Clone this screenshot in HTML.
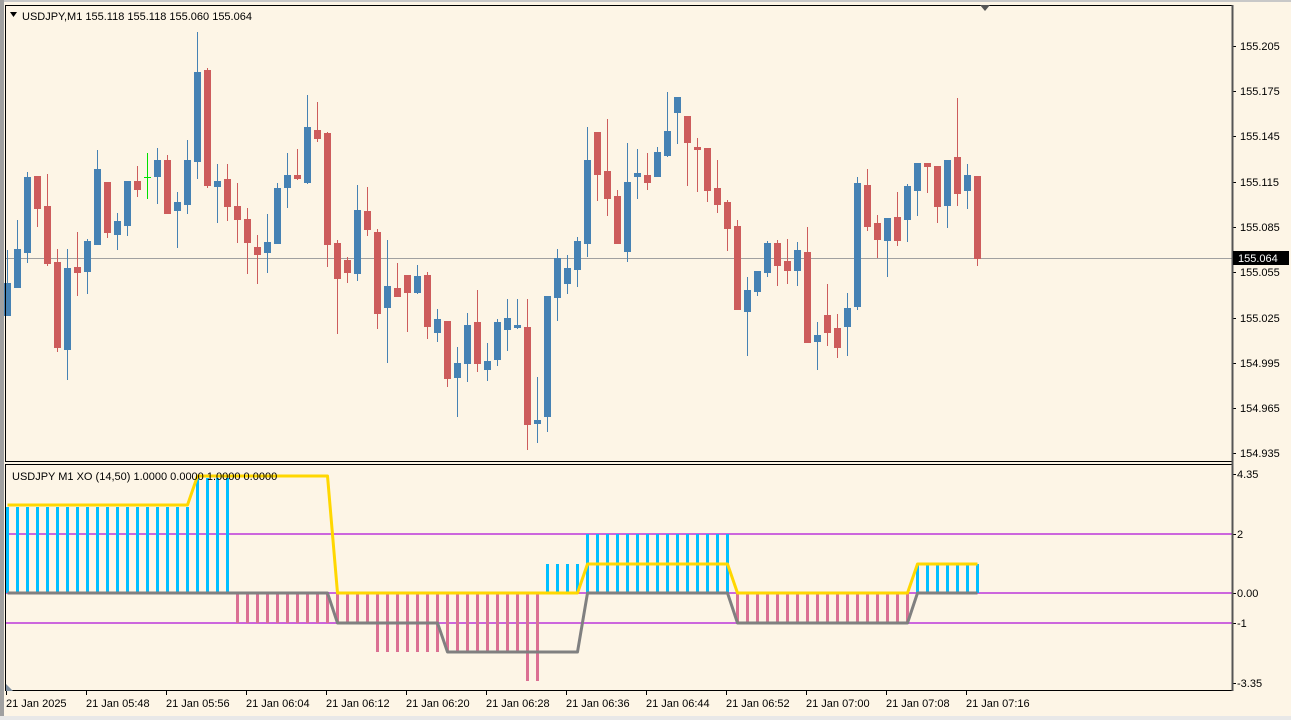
<!DOCTYPE html>
<html><head><meta charset="utf-8"><style>
html,body{margin:0;padding:0;background:#f0f0f0;width:1291px;height:720px;overflow:hidden}
svg{position:absolute;left:0;top:0}
text{font-family:"Liberation Sans",sans-serif;font-size:11px;fill:#000}
</style></head><body>
<svg id="s" width="1291" height="720" xmlns="http://www.w3.org/2000/svg">
<rect x="4" y="2" width="1287" height="714" fill="#fdf5e6"/>
<rect x="0" y="0" width="4" height="720" fill="#a0a0a0"/>
<rect x="0" y="716" width="1291" height="4" fill="#e8e8e8"/>
<line x1="0" y1="1" x2="1291" y2="1" stroke="#a0a0a0"/>
<g id="grid"></g>
<g id="c"></g>
<g id="h"></g>
<rect x="5.5" y="5.5" width="1227" height="456" fill="none" stroke="#000"/>
<rect x="5.5" y="464.5" width="1227" height="226" fill="none" stroke="#000"/>
<line x1="1232.5" y1="5" x2="1232.5" y2="691" stroke="#555" stroke-width="2"/>
<path d="M980 5 L990 5 L985 11 Z" fill="#555"/>
<path d="M6 684 L6 691 L13 691 Z" fill="#8090a0"/>
<path d="M10 12 L17 12 L13.5 17 Z" fill="#000"/>
<text x="22" y="20">USDJPY,M1  155.118 155.118 155.060 155.064</text>
<text x="12" y="480">USDJPY M1 XO (14,50) 1.0000 0.0000 1.0000 0.0000</text>
<g id="ax">
<text x="1240" y="50">155.205</text>
<text x="1240" y="95">155.175</text>
<text x="1240" y="140">155.145</text>
<text x="1240" y="186">155.115</text>
<text x="1240" y="231">155.085</text>
<text x="1240" y="276">155.055</text>
<text x="1240" y="322">155.025</text>
<text x="1240" y="367">154.995</text>
<text x="1240" y="412">154.965</text>
<text x="1240" y="457">154.935</text>
<text x="1237" y="478">4.35</text>
<text x="1237" y="538">2</text>
<text x="1237" y="597">0.00</text>
<text x="1237" y="627">-1</text>
<text x="1237" y="687">-3.35</text>
</g>
<rect x="1233" y="251" width="56" height="14" fill="#000"/>
<text x="1238" y="262" style="fill:#fff">155.064</text>
<g id="t">
<text x="6" y="707">21 Jan 2025</text>
<text x="86" y="707">21 Jan 05:48</text>
<text x="166" y="707">21 Jan 05:56</text>
<text x="246" y="707">21 Jan 06:04</text>
<text x="326" y="707">21 Jan 06:12</text>
<text x="406" y="707">21 Jan 06:20</text>
<text x="486" y="707">21 Jan 06:28</text>
<text x="566" y="707">21 Jan 06:36</text>
<text x="646" y="707">21 Jan 06:44</text>
<text x="726" y="707">21 Jan 06:52</text>
<text x="806" y="707">21 Jan 07:00</text>
<text x="886" y="707">21 Jan 07:08</text>
<text x="966" y="707">21 Jan 07:16</text>
</g>
</svg>
<script>
var NS="http://www.w3.org/2000/svg";
function el(p,t,a){var e=document.createElementNS(NS,t);for(var k in a)e.setAttribute(k,a[k]);p.appendChild(e);return e;}
var s=document.getElementById('s'),g=document.getElementById('grid'),c=document.getElementById('c'),h=document.getElementById('h');
[46,91,136,182,227,272,318,363,408,453,474,534,593,623,683].forEach(function(y){el(g,'line',{x1:1233,x2:1236,y1:y+.5,y2:y+.5,stroke:'#000'});});
for(var i=0;i<13;i++){var x=6+80*i;el(g,'line',{x1:x+.5,x2:x+.5,y1:691,y2:695,stroke:'#000'});}
el(g,'line',{x1:6,x2:1232,y1:258.5,y2:258.5,stroke:'#a0a0a0'});
[534,593,623].forEach(function(y){el(g,'line',{x1:6,x2:1232,y1:y,y2:y,stroke:'#cc66dd','stroke-width':2});});
var D=[[250,316,283,316,'b'],[220,288,249,288,'b'],[172,263,177,253,'b'],[176,227,176,209,'r'],[174,266,206,264,'r'],
[249,352,262,348,'r'],[249,380,268,350,'b'],[232,296,267,273,'r'],[239,294,241,272,'b'],[150,245,169,245,'b'],
[182,238,182,233,'r'],[213,250,221,235,'b'],[181,236,181,226,'b'],[166,197,181,190,'r'],[153,199,177,177,'g'],
[148,204,160,177,'b'],[155,214,160,214,'r'],[192,248,202,211,'b'],[140,214,160,205,'b'],[32,179,72,162,'b'],
[68,188,70,186,'r'],[164,223,181,187,'b'],[164,221,179,207,'r'],[183,243,206,220,'r'],[208,274,219,243,'r'],
[235,284,247,255,'r'],[214,273,242,253,'b'],[183,244,188,244,'b'],[153,208,175,188,'b'],[149,180,175,179,'r'],
[95,184,127,183,'b'],[102,142,130,139,'r'],[132,267,133,245,'r'],[240,334,243,279,'r'],[257,283,260,273,'r'],
[185,281,210,274,'b'],[187,236,211,230,'r'],[229,329,232,314,'r'],[240,363,286,308,'b'],[263,297,288,297,'r'],
[275,332,275,293,'r'],[265,294,276,293,'b'],[272,339,275,327,'r'],[309,342,319,333,'b'],[321,387,321,379,'r'],
[347,417,363,378,'b'],[313,382,325,364,'b'],[290,372,322,364,'r'],[343,381,361,370,'b'],[319,366,322,360,'b'],
[299,351,318,330,'b'],[299,329,325,328,'b'],[299,450,327,425,'r'],[377,443,420,424,'b'],[296,432,296,417,'b'],
[249,321,258,298,'b'],[255,294,268,284,'b'],[237,287,241,270,'b'],[127,257,160,244,'b'],[132,201,132,175,'r'],
[119,216,171,199,'r'],[190,244,196,244,'r'],[143,262,182,252,'b'],[149,199,173,177,'b'],[153,190,175,183,'r'],
[147,177,152,177,'b'],[92,157,131,156,'b'],[97,144,97,113,'b'],[116,186,116,143,'r'],[138,192,147,150,'r'],
[148,202,148,191,'r'],[160,213,188,205,'r'],[200,251,202,229,'r'],[220,310,226,310,'r'],[277,356,290,312,'b'],
[271,296,271,292,'b'],[241,277,243,273,'b'],[240,286,243,266,'r'],[239,284,261,271,'r'],[242,286,250,271,'b'],
[227,343,252,343,'r'],[322,370,335,342,'b'],[284,346,315,333,'r'],[314,358,328,348,'r'],[293,356,308,327,'b'],
[177,310,183,307,'b'],[169,231,185,227,'r'],[215,258,223,240,'r'],[218,277,218,241,'b'],[192,246,217,241,'r'],
[184,242,186,220,'b'],[163,216,163,191,'b'],[163,193,163,167,'r'],[166,223,166,207,'r'],[160,228,160,206,'b'],
[98,206,157,194,'r'],[164,209,175,191,'b'],[176,266,176,259,'r']];
var col={b:'#4682b4',r:'#cd5c5c',g:'#00e000'};
D.forEach(function(d,i){var x=7+10*i,cl=col[d[4]];
el(c,'line',{x1:x+.5,x2:x+.5,y1:d[0],y2:d[1],stroke:cl});
if(d[4]=='g'){el(c,'line',{x1:x-3,x2:x+4,y1:d[2]+.5,y2:d[2]+.5,stroke:cl});}
else el(c,'rect',{x:x-3,y:d[2],width:7,height:Math.max(1,d[3]-d[2]),fill:cl});
});
var V=[];for(i=0;i<98;i++){var v;
if(i<=18)v=507;else if(i<=22)v=478;else if(i<=36)v=623;else if(i<=51)v=652;else if(i<=53)v=681;else if(i<=57)v=564;else if(i<=72)v=534;else if(i<=90)v=623;else v=564;
V.push(v);}
V.forEach(function(v,i){var x=7+10*i;var top=Math.min(v,593),bot=Math.max(v,593);
el(h,'rect',{x:x-1,y:top,width:3,height:bot-top,fill:v<593?'#00bfff':'#db7093'});});
function X(i){return 7+10*i+.5;}
var Y=[[0,505],[18,505],[19,476],[32,476],[33,593],[57,593],[58,564],[72,564],[73,593],[90,593],[91,564],[97,564]];
var G=[[0,593],[32,593],[33,623],[43,623],[44,652],[57,652],[58,593],[72,593],[73,623],[90,623],[91,593],[97,593]];
function pl(P,cl){el(h,'polyline',{points:P.map(function(p){return X(p[0])+','+p[1];}).join(' '),fill:'none',stroke:cl,'stroke-width':3,'stroke-linejoin':'round'});}
pl(G,'#808080');pl(Y,'#ffd700');
</script>
</body></html>
